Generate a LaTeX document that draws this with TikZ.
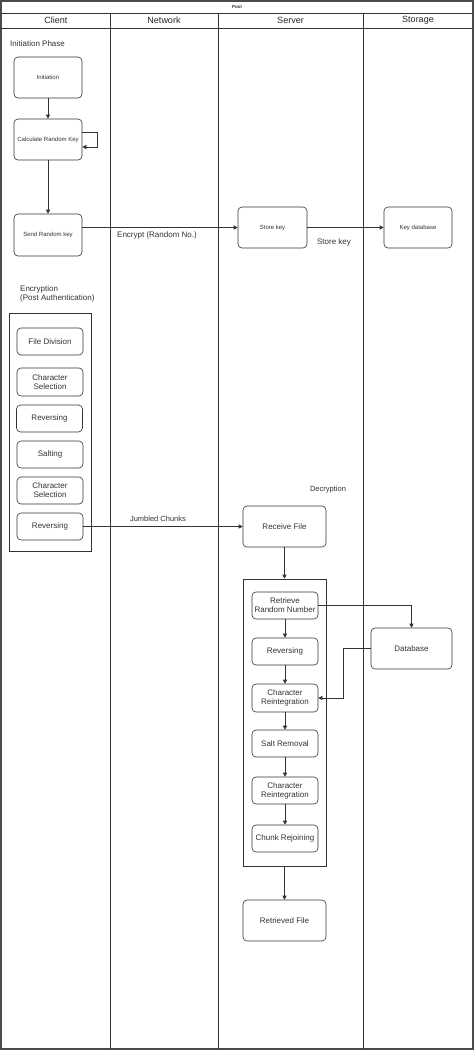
\documentclass[tikz,border=0pt]{standalone}
\usepackage{fontspec}
\setmainfont{Liberation Sans}
\usetikzlibrary{arrows.meta}
\definecolor{ln}{HTML}{333333}
\definecolor{tx}{HTML}{333333}
\begin{document}
\begin{tikzpicture}[x=1pt,y=-1pt,
  rbox/.style={draw=ln, line width=0.6pt, rounded corners=4pt, align=center, inner sep=1pt, text=tx, font=\fontsize{8}{9}\selectfont},
  tbox/.style={rbox, font=\fontsize{6}{7}\selectfont},
  cont/.style={draw=ln, line width=0.6pt, inner sep=0pt},
  arr/.style={draw=ln, line width=0.6pt, -{Triangle[length=4pt,width=4pt]}},
  lbl/.style={text=tx, inner sep=0pt},
  hdr/.style={text=black!85, inner sep=0pt, font=\fontsize{9}{10}\selectfont}]
\useasboundingbox (0,0) rectangle (474,1050);
\fill[white] (0,0) rectangle (474,1050);
% pool frame
\draw[draw=gray!60!black, line width=1.2pt] (1,1) rectangle (473,1049);
\node[lbl, font=\bfseries\fontsize{4.5}{5}\selectfont] (pool) at (237,6.5) {Pool};
\draw[ln, line width=0.7pt] (1,13) -- (473,13);
\draw[ln, line width=0.7pt] (1,28) -- (473,28);
\draw[ln, line width=0.7pt] (110,13) -- (110,1049);
\draw[ln, line width=0.7pt] (218,13) -- (218,1049);
\draw[ln, line width=0.7pt] (363,13) -- (363,1049);
\node[hdr] (hclient) at (56,20.5) {Client};
\node[hdr] (hnet) at (164,20.5) {Network};
\node[hdr] (hserver) at (290.5,20.5) {Server};
\node[hdr] (hstor) at (418,20.5) {Storage};

% initiation phase
\node[lbl, anchor=west, font=\fontsize{8}{9}\selectfont] (iphase) at (10,44) {Initiation Phase};
\node[tbox, minimum width=68pt, minimum height=41pt] (init) at (48,77.5) {Initiation};
\node[tbox, minimum width=68pt, minimum height=41pt] (calc) at (48,139.5) {Calculate Random Key};
\node[tbox, minimum width=68pt, minimum height=42pt] (send) at (48,235) {Send Random key};
\node[tbox, minimum width=69pt, minimum height=41pt] (store) at (272.5,227.5) {Store key};
\node[tbox, minimum width=68pt, minimum height=41pt] (keydb) at (418,227.5) {Key database};
\draw[arr] (init) -- (calc);
\draw[arr] ([yshift=7.5pt]calc.east) -- ++(15,0) |- ([yshift=-7.5pt]calc.east);
\draw[arr] (calc) -- (send);
\draw[arr] (send.east |- store.west) -- (store.west);
\node[lbl, font=\fontsize{8}{9}\selectfont] (enclbl) at (157,235) {Encrypt (Random No.)};
\draw[arr, line width=1pt] (store) -- (keydb);
\node[lbl, font=\fontsize{8}{9}\selectfont] (storelbl) at (334,242) {Store key};

% encryption
\node[lbl, anchor=north west, align=left, font=\fontsize{8}{9.5}\selectfont] (enchead) at (20,285) {Encryption\\(Post Authentication)};
\node[cont, minimum width=82pt, minimum height=238pt] (encbox) at (50,432) {};
\node[rbox, minimum width=66pt, minimum height=27pt] (fd) at (50,341.5) {File Division};
\node[rbox, minimum width=66pt, minimum height=28pt] (cs1) at (50,382) {Character\\Selection};
\node[rbox, minimum width=66pt, minimum height=27pt] (rev1) at (49.5,418.5) {Reversing};
\node[rbox, minimum width=66pt, minimum height=27pt] (salt) at (50,454.5) {Salting};
\node[rbox, minimum width=66pt, minimum height=27pt] (cs2) at (50,490.5) {Character\\Selection};
\node[rbox, minimum width=66pt, minimum height=27pt] (rev2) at (50,526.5) {Reversing};

% transfer
\node[rbox, minimum width=83pt, minimum height=41pt] (recv) at (284.5,526.5) {Receive File};
\draw[arr] (rev2) -- (recv);
\node[lbl, font=\fontsize{7.5}{8}\selectfont] (jlbl) at (158,519) {Jumbled Chunks};

% decryption
\node[lbl, font=\fontsize{7.5}{8}\selectfont] (declbl) at (328,490) {Decryption};
\node[cont, minimum width=83pt, minimum height=287pt] (decbox) at (284.5,722.5) {};
\node[rbox, minimum width=66pt, minimum height=27pt] (rrn) at (285,605.5) {Retrieve\\Random Number};
\node[rbox, minimum width=66pt, minimum height=27pt] (rev3) at (285,651.5) {Reversing};
\node[rbox, minimum width=66pt, minimum height=28pt] (cr1) at (285,698) {Character\\Reintegration};
\node[rbox, minimum width=66pt, minimum height=27pt] (sr) at (285,743.5) {Salt Removal};
\node[rbox, minimum width=66pt, minimum height=27pt] (cr2) at (285,790.5) {Character\\Reintegration};
\node[rbox, minimum width=66pt, minimum height=27pt] (cj) at (285,838.5) {Chunk Rejoining};
\node[rbox, minimum width=83pt, minimum height=41pt] (retr) at (284.5,920.5) {Retrieved File};
\node[rbox, minimum width=81pt, minimum height=41pt] (db) at (411.5,648.5) {Database};
\draw[arr] (recv) -- (decbox.north);
\draw[arr] (rrn) -- (rev3);
\draw[arr] (rev3) -- (cr1);
\draw[arr] (cr1) -- (sr);
\draw[arr] (sr) -- (cr2);
\draw[arr] (cr2) -- (cj);
\draw[arr] (rrn.east) -| (db.north);
\draw[arr] (db.west) -- ++(-27,0) |- (cr1.east);
\draw[arr] (decbox.south) -- (retr);
\end{tikzpicture}
\end{document}
